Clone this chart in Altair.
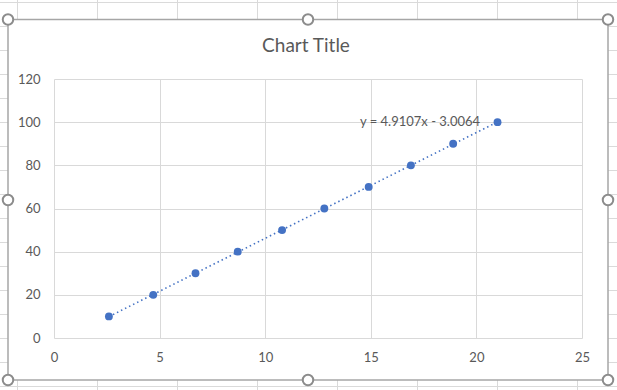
import altair as alt
import pandas as pd

# ---- data ----
x_vals = [2.6, 4.7, 6.7, 8.7, 10.8, 12.8, 14.9, 16.9, 18.9, 21.0]
y_vals = [10, 20, 30, 40, 50, 60, 70, 80, 90, 100]
x_ticks = [0, 5, 10, 15, 20, 25]
y_ticks = [0, 20, 40, 60, 80, 100, 120]
eq_text = ["y = 4.9107x - 3.0064"]
eq_x = [17.33]
eq_y = [100]
title_text = "Chart Title"

df = pd.DataFrame({"x": x_vals, "y": y_vals})
eq_df = pd.DataFrame({"x": eq_x, "y": eq_y, "t": eq_text})

W, H = 528, 259
PL, PT = 54, 79
TOTAL_W, TOTAL_H = 617, 390
BLUE = "#4472C4"
GRAY_TXT = "#595959"
FONT = "Lato"
FL, FR, FT, FB = 8, 608, 19.5, 380

one = alt.Data(values=[{}])

# ---- spreadsheet cell grid around the chart (decoration, outside the frame only) ----
decor = []
for cx in [17.5, 97.5, 177.5, 257.5, 337.5, 417.5, 497.5, 577.5]:
    decor.append(alt.Chart(one).mark_rule(color="#dadada", strokeWidth=1).encode(
        x=alt.value(cx - PL), y=alt.value(-PT), y2=alt.value(FT - PT)))
    decor.append(alt.Chart(one).mark_rule(color="#dadada", strokeWidth=1).encode(
        x=alt.value(cx - PL), y=alt.value(FB - PT), y2=alt.value(TOTAL_H - PT)))
for ry in [2.5, 26.5, 50.5, 74.5, 98.5, 122.5, 146.5, 170.5, 194.5, 218.5, 242.5,
           266.5, 290.5, 314.5, 338.5, 362.5, 386.5]:
    if FT < ry < FB:
        decor.append(alt.Chart(one).mark_rule(color="#dadada", strokeWidth=1).encode(
            y=alt.value(ry - PT), x=alt.value(-PL), x2=alt.value(FL - PL)))
        decor.append(alt.Chart(one).mark_rule(color="#dadada", strokeWidth=1).encode(
            y=alt.value(ry - PT), x=alt.value(FR - PL), x2=alt.value(TOTAL_W - PL)))
    else:
        decor.append(alt.Chart(one).mark_rule(color="#dadada", strokeWidth=1).encode(
            y=alt.value(ry - PT), x=alt.value(-PL), x2=alt.value(TOTAL_W - PL)))

# chart frame border
frame = alt.Chart(one).mark_rect(fill=None, fillOpacity=0, stroke="#a6a6a6", strokeWidth=1.5).encode(
    x=alt.value(FL - PL), x2=alt.value(FR - PL),
    y=alt.value(FT - PT), y2=alt.value(FB - PT))

# ---- chart content ----
base = alt.Chart(df)

xscale = alt.Scale(domain=[0, 25], nice=False, zero=True)
yscale = alt.Scale(domain=[0, 120], nice=False)

xaxis = alt.Axis(values=x_ticks, title=None, grid=True, gridColor="#d9d9d9", domain=False,
                 ticks=False, labelPadding=13, labelFont=FONT, labelFontSize=13,
                 labelColor=GRAY_TXT, labelFlush=False)
yaxis = alt.Axis(values=y_ticks, title=None, grid=True, gridColor="#d9d9d9", domain=False,
                 ticks=False, labelPadding=14, labelFont=FONT, labelFontSize=13,
                 labelColor=GRAY_TXT, labelFlush=False)

trend = base.transform_regression("x", "y").mark_line(
    color=BLUE, strokeWidth=1.6, strokeDash=[1.5, 3]).encode(
    x=alt.X("x:Q", scale=xscale, axis=xaxis),
    y=alt.Y("y:Q", scale=yscale, axis=yaxis))

points = base.mark_circle(color=BLUE, size=62, opacity=1).encode(
    x=alt.X("x:Q", scale=xscale, axis=xaxis),
    y=alt.Y("y:Q", scale=yscale, axis=yaxis))

eq = alt.Chart(eq_df).mark_text(font=FONT, fontSize=13, color=GRAY_TXT,
                                align="center", baseline="middle").encode(
    x=alt.X("x:Q", scale=xscale), y=alt.Y("y:Q", scale=yscale), text="t:N")

title = alt.Chart(one).mark_text(font=FONT, fontSize=19, color=GRAY_TXT,
                                 align="center", baseline="alphabetic").encode(
    x=alt.value(306 - PL), y=alt.value(51.5 - PT), text=alt.value(title_text))

# selection handles (decoration)
handles = []
for hx, hy in [(FL, FT), (308, FT), (FR, FT), (FL, 200), (FR, 200),
               (FL, FB), (308, FB), (FR, FB)]:
    handles.append(alt.Chart(one).mark_point(shape="circle", size=110, filled=True,
                                             fill="white", stroke="#8c8c8c",
                                             strokeWidth=2, opacity=1).encode(
        x=alt.value(hx - PL), y=alt.value(hy - PT)))

chart = alt.layer(*decor, frame, trend, points, eq, title, *handles).properties(
    width=W, height=H,
    autosize=alt.AutoSizeParams(type="none"),
    padding={"left": PL, "top": PT, "right": TOTAL_W - PL - W, "bottom": TOTAL_H - PT - H},
    background="white",
).configure_view(stroke=None)

chart.save("out.html", embed_options={"renderer": "svg", "actions": False})
